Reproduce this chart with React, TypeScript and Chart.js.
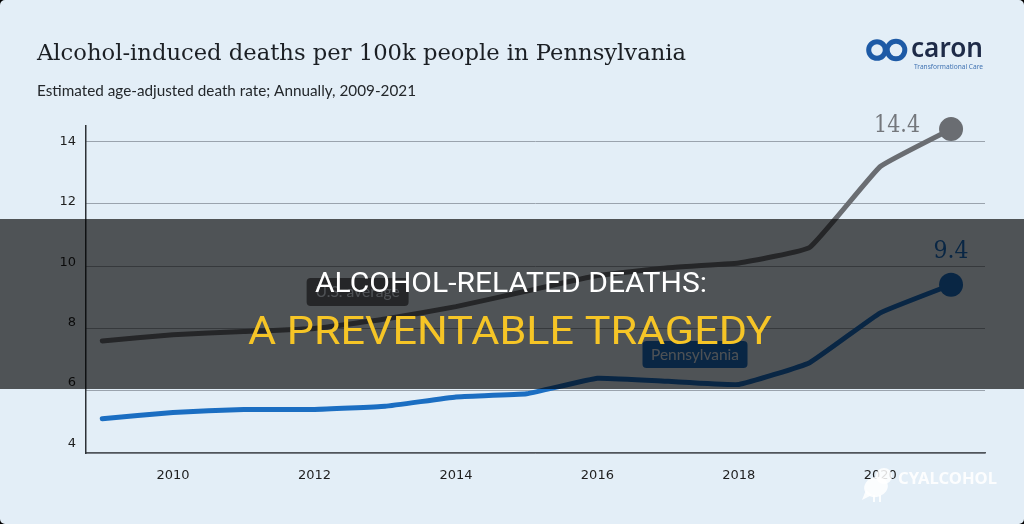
import React, { useEffect, useRef } from "react";
import { Chart, registerables } from "chart.js";

Chart.register(...registerables);

// ---- data ----
const years = [2009, 2010, 2011, 2012, 2013, 2014, 2015, 2016, 2017, 2018, 2019, 2020, 2021];
const usAverage = [7.6, 7.8, 7.9, 8.0, 8.3, 8.7, 9.2, 9.7, 9.95, 10.1, 10.6, 13.2, 14.4];
const pennsylvania = [5.1, 5.3, 5.4, 5.4, 5.5, 5.8, 5.9, 6.4, 6.3, 6.2, 6.9, 8.5, 9.4];
const seriesNames = ["U.S. average", "Pennsylvania"];
const xTickYears = [2010, 2012, 2014, 2016, 2018, 2020];
const yTickValues = [4, 6, 8, 10, 12, 14];

const TITLE = "Alcohol-induced deaths per 100k people in Pennsylvania";
const SUBTITLE = "Estimated age-adjusted death rate; Annually, 2009-2021";
const BANNER_TOP = "ALCOHOL-RELATED DEATHS:";
const BANNER_BOTTOM = "A PREVENTABLE TRAGEDY";
const BRAND = "caron";
const BRAND_TAG = "Transformational Care";
const WATERMARK = "CYALCOHOL";

// ---- styling ----
const BG = "#e3eef7";
const GRAY = "#6a6d72";
const BLUE = "#1b6ec2";
const W = 1024;
const H = 524;

// where the series name tags sit, in data units
const tagAnchors = [
  { x: 2012.61, y: 9.17, w: 102, h: 28, fit: 84 },
  { x: 2017.38, y: 7.16, w: 105, h: 27, fit: 88 },
];

function fitText(
  ctx: CanvasRenderingContext2D,
  text: string,
  x: number,
  y: number,
  width: number,
  font: string,
  color: string,
  align: "left" | "center" | "right" = "left"
) {
  ctx.save();
  ctx.font = font;
  const w = ctx.measureText(text).width || 1;
  const sx = width / w;
  const left = align === "left" ? x : align === "center" ? x - width / 2 : x - width;
  ctx.fillStyle = color;
  ctx.textAlign = "left";
  ctx.textBaseline = "alphabetic";
  ctx.translate(left, y);
  ctx.scale(sx, 1);
  ctx.fillText(text, 0, 0);
  ctx.restore();
}

function roundRect(ctx: CanvasRenderingContext2D, x: number, y: number, w: number, h: number, r: number) {
  ctx.beginPath();
  ctx.moveTo(x + r, y);
  ctx.lineTo(x + w - r, y);
  ctx.quadraticCurveTo(x + w, y, x + w, y + r);
  ctx.lineTo(x + w, y + h - r);
  ctx.quadraticCurveTo(x + w, y + h, x + w - r, y + h);
  ctx.lineTo(x + r, y + h);
  ctx.quadraticCurveTo(x, y + h, x, y + h - r);
  ctx.lineTo(x, y + r);
  ctx.quadraticCurveTo(x, y, x + r, y);
  ctx.closePath();
}

const decorations = {
  id: "decorations",
  beforeDraw(chart: any) {
    const ctx: CanvasRenderingContext2D = chart.ctx;
    // heading
    fitText(ctx, TITLE, 37, 59.5, 649, '23px "DejaVu Serif"', "#1b1f24");
    fitText(ctx, SUBTITLE, 37, 96, 379, '15px Lato', "#23272b");

    // brand mark: two linked rings + wordmark
    ctx.save();
    ctx.strokeStyle = "#1d5aa6";
    ctx.lineWidth = 5;
    ctx.beginPath();
    ctx.arc(877, 50, 8.3, 0, Math.PI * 2);
    ctx.stroke();
    ctx.beginPath();
    ctx.arc(896, 50, 8.8, 0, Math.PI * 2);
    ctx.stroke();
    ctx.restore();
    fitText(ctx, BRAND, 911, 57, 72, '600 27px "Noto Sans"', "#1e2b48");
    fitText(ctx, BRAND_TAG, 914, 69, 69, '7px "Noto Sans"', "#4274b3");
  },
  afterDatasetsDraw(chart: any) {
    const ctx: CanvasRenderingContext2D = chart.ctx;
    const xs = chart.scales.x;
    const ys = chart.scales.y;
    const colors = [GRAY, BLUE];

    // series name tags
    tagAnchors.forEach((a, i) => {
      const cx = xs.getPixelForValue(a.x);
      const cy = ys.getPixelForValue(a.y);
      ctx.save();
      ctx.fillStyle = colors[i];
      roundRect(ctx, cx - a.w / 2, cy - a.h / 2, a.w, a.h, 4);
      ctx.fill();
      ctx.restore();
      fitText(ctx, seriesNames[i], cx, cy + 5, a.fit, '15px Lato', "#dfe8f2", "center");
    });

    // end-of-line value labels
    const last = years.length - 1;
    const us = chart.getDatasetMeta(0).data[last];
    const pa = chart.getDatasetMeta(1).data[last];
    fitText(ctx, String(usAverage[last]), us.x - 31, us.y + 3, 46, '24px "DejaVu Serif"', "#74777c", "right");
    fitText(ctx, String(pennsylvania[last]), pa.x, pa.y - 27, 35, '24px "DejaVu Serif"', BLUE, "center");
  },
  afterDraw(chart: any) {
    const ctx: CanvasRenderingContext2D = chart.ctx;
    // darkened banner across the middle
    ctx.save();
    ctx.fillStyle = "rgba(0,0,0,0.65)";
    ctx.fillRect(0, 219, W, 170);
    ctx.restore();
    fitText(ctx, BANNER_TOP, 315, 291.7, 392, '28px Roboto', "#ffffff");
    fitText(ctx, BANNER_BOTTOM, 248, 344, 524, '38px Roboto', "#f6c526");

    // watermark with bird emblem
    ctx.save();
    ctx.fillStyle = "rgba(255,255,255,0.85)";
    ctx.beginPath();
    ctx.arc(884, 476, 8, 0, Math.PI * 2);
    ctx.fill();
    ctx.beginPath();
    ctx.ellipse(876, 487, 12, 10, -0.3, 0, Math.PI * 2);
    ctx.fill();
    ctx.beginPath();
    ctx.moveTo(866, 490);
    ctx.lineTo(862, 500);
    ctx.lineTo(872, 495);
    ctx.closePath();
    ctx.fill();
    ctx.fillRect(873, 495, 2, 7);
    ctx.fillRect(879, 495, 2, 7);
    ctx.restore();
    fitText(ctx, WATERMARK, 898, 484, 99, 'bold 16px "Noto Sans"', "rgba(255,255,255,0.88)");
  },
};

export default function App() {
  const canvasRef = useRef<HTMLCanvasElement | null>(null);

  useEffect(() => {
    document.body.style.margin = "0";
    document.body.style.background = "#000";
    const canvas = canvasRef.current;
    if (!canvas) return;
    const last = years.length - 1;
    const endPoint = (ctx: any) => (ctx.dataIndex === last ? 12 : 0);

    const lineStyle = {
      borderWidth: 5,
      tension: 0.1,
      pointRadius: endPoint,
      pointHoverRadius: endPoint,
      pointBorderWidth: 0,
      borderJoinStyle: "round",
      borderCapStyle: "round",
      clip: false,
    };

    const tickFont = { family: '"DejaVu Sans"', size: 13 };

    const chart = new Chart(canvas, {
      type: "line",
      data: {
        datasets: [
          {
            label: seriesNames[0],
            data: years.map((y, i) => ({ x: y, y: usAverage[i] })),
            borderColor: GRAY,
            backgroundColor: GRAY,
            ...lineStyle,
          },
          {
            label: seriesNames[1],
            data: years.map((y, i) => ({ x: y, y: pennsylvania[i] })),
            borderColor: BLUE,
            backgroundColor: BLUE,
            ...lineStyle,
          },
        ],
      },
      options: {
        responsive: false,
        animation: false,
        devicePixelRatio: 1,
        layout: { padding: { top: 126, right: 39, left: 0, bottom: 0 } },
        plugins: {
          legend: { display: false },
          tooltip: { enabled: false },
          title: { display: false },
        },
        scales: {
          x: {
            type: "linear",
            min: 2008.77,
            max: 2021.48,
            afterBuildTicks: (axis: any) => {
              axis.ticks = xTickYears.map((v) => ({ value: v }));
            },
            afterFit: (s: any) => {
              s.height = 71;
            },
            grid: { display: false, drawTicks: false },
            border: { display: true, color: "#50555b", width: 1.5 },
            ticks: {
              padding: 15,
              color: "#1e1e1e",
              font: tickFont,
              callback: (v: any) => String(v),
              maxRotation: 0,
            },
          },
          // value axis: carries the horizontal grid lines
          y: {
            type: "linear",
            position: "left",
            min: 4,
            max: 14.5,
            afterBuildTicks: (axis: any) => {
              axis.ticks = yTickValues.map((v) => ({ value: v }));
            },
            afterFit: (s: any) => {
              s.width = 0;
            },
            grid: { color: "#9aa3ad", lineWidth: 1, drawTicks: false },
            border: { display: false },
            ticks: { display: false },
          },
          // label axis: the tick numbers sit on a slightly tighter spacing
          yLabels: {
            type: "linear",
            position: "left",
            min: 3.68,
            max: 14.51,
            afterBuildTicks: (axis: any) => {
              axis.ticks = yTickValues.map((v) => ({ value: v }));
            },
            afterFit: (s: any) => {
              s.width = 86;
            },
            grid: { display: false, drawTicks: false },
            border: { display: true, color: "#2d3136", width: 1.5 },
            ticks: {
              padding: 10,
              color: "#1e1e1e",
              font: tickFont,
              callback: (v: any) => String(v),
            },
          },
        },
      },
      plugins: [decorations],
    } as any);

    return () => chart.destroy();
  }, []);

  return (
    <div style={{ position: "fixed", left: 0, top: 0, width: W, height: H, background: "#000" }}>
      <div style={{ width: W, height: H, background: BG, borderRadius: 5, overflow: "hidden" }}>
        <canvas ref={canvasRef} width={W} height={H} style={{ display: "block" }} />
      </div>
    </div>
  );
}
